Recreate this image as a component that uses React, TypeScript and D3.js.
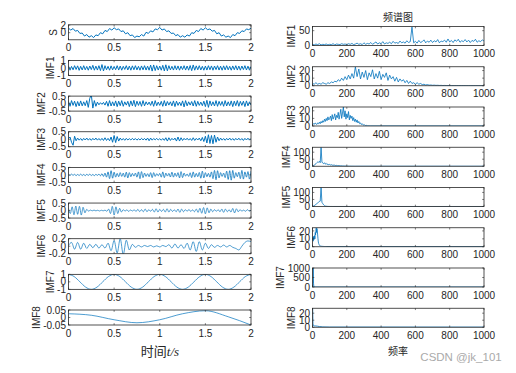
import React from 'react';
import * as d3 from 'd3';

// time axis / frequency axis ticks
const timeTicks = [0, 0.5, 1, 1.5, 2];
const freqTicks = [0, 200, 400, 600, 800, 1000];

// ---- left column: signal and IMFs ----
const sSig = [
  1.2, 0.7, 1.1, 0.4, 0.6, -0.2, -0.1, -0.9, -0.5, -1.2, -0.8, -1.3, -0.6, -0.8, 0.0, -0.3, 0.6, 0.3, 1.1, 0.7,
  1.3, 0.8, 1.0, 0.3, 0.5, -0.3, 0.0, -0.8, -0.6, -1.3, -0.9, -1.1, -0.5, -0.9, 0.1, -0.2, 0.5, 0.2, 1.0, 0.8,
  1.4, 0.7, 1.0, 0.3, 0.5, -0.2, -0.1, -0.8, -0.5, -1.2, -0.8, -1.2, -0.6, -0.9, 0.0, -0.2, 0.6, 0.3, 1.1, 0.7,
  1.3, 0.8, 1.0, 0.4, 0.6, -0.3, 0.0, -0.9, -0.6, -1.2, -0.9, -1.3, -0.5, -0.8, 0.0, -0.2, 0.5, 0.3, 1.0, 0.8,
  1.2,
];
const imf1 = [
  0.25, -0.3, 0.2, -0.25, 0.3, -0.2, 0.28, -0.32, 0.22, -0.27,
  0.3, -0.25, 0.2, -0.3, 0.26, -0.22, 0.35, -0.3, 0.24, -0.28,
  0.3, -0.35, 0.45, -0.4, 0.3, -0.25, 0.22, -0.3, 0.28, -0.26,
  0.2, -0.24, 0.3, -0.28, 0.25, -0.3, 0.22, -0.2, 0.3, -0.27,
  0.25, -0.3, 0.28, -0.24, 0.3, -0.26, 0.22, -0.3, 0.27, -0.25,
  0.3, -0.28, 0.24, -0.3, 0.38, -0.42, 0.4, -0.35, 0.3, -0.28,
  0.25, -0.3, 0.35, -0.4, 0.42, -0.38, 0.3, -0.26, 0.22, -0.28,
  0.3, -0.25, 0.27, -0.3, 0.24, -0.22, 0.3, -0.28, 0.26, -0.3,
  0.32, -0.36, 0.4, -0.3, 0.28, -0.25, 0.3, -0.27, 0.22, -0.3,
  0.25, -0.28, 0.3, -0.24, 0.27, -0.3, 0.26, -0.22, 0.3, -0.28,
  0.24, -0.3, 0.28, -0.26, 0.3, -0.25, 0.22, -0.3, 0.27, -0.24,
  0.3, -0.28, 0.25, -0.3, 0.26, -0.22, 0.3, -0.27, 0.24, -0.3,
  0.2,
];
const imf2 = [
  0.15, -0.18, 0.2, -0.12, 0.16, -0.2, 0.14, -0.16, 0.18, -0.15,
  0.12, -0.14, 0.2, -0.25, 0.35, 0.6, -0.3, 0.2, -0.18, 0.1,
  -0.08, 0.06, -0.05, 0.08, -0.1, 0.15, -0.18, 0.2, -0.16, 0.12,
  -0.15, 0.18, -0.2, 0.16, -0.14, 0.2, -0.18, 0.12, -0.1, 0.15,
  -0.2, 0.18, -0.15, 0.22, -0.2, 0.16, -0.12, 0.14, -0.18, 0.2,
  -0.15, 0.12, -0.08, 0.1, -0.12, 0.16, -0.18, 0.2, -0.14, 0.1,
  -0.12, 0.15, -0.18, 0.2, -0.16, 0.14, -0.1, 0.12, -0.15, 0.18,
  -0.2, 0.16, -0.12, 0.1, -0.14, 0.18, -0.22, 0.2, -0.15, 0.12,
  -0.1, 0.14, -0.16, 0.2, -0.18, 0.15, -0.12, 0.1, -0.14, 0.16,
  -0.2, 0.22, -0.25, 0.18, -0.14, 0.12, -0.16, 0.2, -0.18, 0.15,
  -0.12, 0.14, -0.18, 0.2, -0.16, 0.12, -0.14, 0.18, -0.2, 0.16,
  -0.14, 0.2, -0.18, 0.15, -0.12, 0.16, -0.2, 0.18, -0.15, 0.12,
  -0.1,
];
const imf3 = [
  0.05, 0.15, -0.2, -0.4, 0.2, -0.1, 0.08, -0.06, 0.05, -0.08,
  0.06, -0.05, 0.08, -0.06, 0.05, -0.07, 0.06, -0.05, 0.08, -0.06,
  0.05, -0.07, 0.06, -0.08, 0.1, -0.08, 0.06, -0.1, 0.15, -0.2,
  0.25, -0.22, 0.18, -0.12, 0.08, -0.06, 0.05, -0.07, 0.06, -0.05,
  0.04, -0.05, 0.06, -0.04, 0.05, -0.06, 0.04, -0.05, 0.06, -0.04,
  0.05, -0.06, 0.08, -0.1, 0.08, -0.06, 0.05, -0.04, 0.06, -0.05,
  0.04, -0.06, 0.05, -0.07, 0.1, -0.12, 0.1, -0.08, 0.06, -0.05,
  0.08, -0.12, 0.15, -0.12, 0.1, -0.08, 0.06, -0.05, 0.07, -0.06,
  0.05, -0.08, 0.1, -0.08, 0.06, -0.05, 0.08, -0.1, 0.12, -0.15,
  0.2, -0.25, 0.3, -0.28, 0.25, -0.3, 0.28, -0.2, 0.15, -0.1,
  0.08, -0.06, 0.05, -0.07, 0.06, -0.05, 0.08, -0.06, 0.05, -0.07,
  0.06, -0.05, 0.07, -0.06, 0.05, -0.08, 0.06, -0.05, 0.07, -0.06,
  0.05,
];
const imf4 = [
  0.03, -0.04, 0.05, -0.03, 0.04, -0.05, 0.03, -0.04, 0.05, -0.04,
  0.03, -0.05, 0.04, -0.03, 0.05, -0.04, 0.03, -0.05, 0.04, -0.03,
  0.05, -0.06, 0.08, -0.1, 0.12, -0.15, 0.2, -0.25, 0.28, -0.22,
  0.18, -0.15, 0.1, -0.12, 0.15, -0.1, 0.12, -0.15, 0.18, -0.2,
  0.15, -0.12, 0.1, -0.08, 0.12, -0.15, 0.2, -0.25, 0.22, -0.18,
  0.12, -0.1, 0.08, -0.12, 0.15, -0.18, 0.15, -0.1, 0.08, -0.06,
  0.1, -0.15, 0.2, -0.18, 0.12, -0.08, 0.1, -0.14, 0.18, -0.15,
  0.12, -0.1, 0.15, -0.2, 0.22, -0.18, 0.12, -0.08, 0.06, -0.1,
  0.14, -0.18, 0.2, -0.15, 0.1, -0.12, 0.16, -0.22, 0.25, -0.2,
  0.15, -0.12, 0.1, -0.15, 0.2, -0.25, 0.3, -0.32, 0.28, -0.2,
  0.15, -0.1, 0.12, -0.18, 0.25, -0.3, 0.28, -0.35, 0.3, -0.22,
  0.15, -0.12, 0.18, -0.25, 0.3, -0.28, 0.2, -0.15, 0.22, -0.28,
  0.25,
];
const imf5 = [
  0.15, -0.2, 0.25, -0.28, 0.3, -0.25, 0.28, -0.3, 0.22, -0.15,
  0.08, -0.04, 0.03, -0.02, 0.03, -0.02, 0.02, -0.03, 0.02, -0.02,
  0.03, -0.05, 0.1, -0.2, 0.28, -0.3, 0.25, -0.2, 0.15, -0.1,
  0.06, -0.04, 0.05, -0.06, 0.04, -0.03, 0.05, -0.06, 0.08, -0.07,
  0.06, -0.08, 0.1, -0.08, 0.06, -0.05, 0.08, -0.1, 0.12, -0.1,
  0.08, -0.06, 0.08, -0.1, 0.12, -0.1, 0.08, -0.06, 0.05, -0.08,
  0.1, -0.12, 0.1, -0.08, 0.06, -0.05, 0.07, -0.06, 0.05, -0.08,
  0.1, -0.12, 0.15, -0.18, 0.2, -0.22, 0.18, -0.15, 0.1, -0.08,
  0.06, -0.05, 0.06, -0.08, 0.1, -0.12, 0.1, -0.08, 0.06, -0.1,
  0.14, -0.16, 0.12, -0.08, 0.06, -0.04, 0.03, -0.05, 0.06, -0.04,
  0.02,
];
const imf6 = [
  0.02, 0.1, -0.08, 0.1, -0.08, 0.08, -0.06,
  0.05, -0.04, 0.05, -0.05, 0.04, -0.05,
  0.08, -0.12, 0.15, -0.18, 0.2, -0.22, 0.16, -0.1,
  0.05, -0.03, 0.02, -0.02, 0.02, -0.01, 0.02, -0.02, 0.01, -0.02, 0.02, -0.01,
  0.04, -0.05, 0.06, -0.05, 0.04, -0.06, 0.08,
  -0.1, 0.12, -0.14, 0.12, -0.1, 0.08, -0.06,
  0.04, -0.03, 0.02, -0.02, 0.03, -0.02, 0.02, -0.03,
  -0.06, -0.1, 0.0, 0.1, 0.14, 0.12,
];
const imf7 = [
  1, 0.7, 0, -0.7, -1, -0.7, 0, 0.7,
  1, 0.7, 0, -0.7, -1, -0.7, 0, 0.7,
  1, 0.7, 0, -0.7, -1, -0.7, 0, 0.7,
  1, 0.7, 0, -0.7, -1, -0.7, 0, 0.7,
  1,
];
const imf8 = [0.025, 0.015, -0.015, -0.035, -0.015, 0.025, 0.045, 0.005, -0.05];

// ---- right column: spectra (amplitude per frequency step) ----
const spec1 = [
  4, 2, 5, 3, 6, 2, 4, 3, 5, 2,
  4, 3, 6, 2, 5, 4, 3, 6, 4, 5,
  3, 6, 4, 7, 3, 5, 8, 4, 6, 3,
  9, 4, 7, 5, 10, 4, 8, 12, 5, 9,
  6, 13, 5, 9, 7, 11, 6, 14, 8, 10,
  7, 15, 9, 12, 8, 16, 10, 13, 62, 9,
  14, 8, 17, 10, 13, 19, 9, 15, 11, 18,
  10, 16, 12, 20, 9, 15, 13, 18, 11, 22,
  12, 17, 10, 19, 14, 21, 11, 16, 13, 20,
  12, 18, 10, 17, 14, 21, 11, 16, 13, 19,
  15,
];
const spec2 = [
  3, 2, 4, 2, 3, 2, 4, 3, 2, 4,
  3, 5, 4, 6, 5, 8, 6, 10, 7, 12,
  8, 14, 9, 16, 10, 25, 12, 22, 9, 18,
  11, 20, 8, 17, 12, 21, 9, 16, 10, 19,
  8, 15, 11, 17, 7, 14, 9, 12, 6, 11,
  5, 9, 6, 8, 4, 7, 3, 6, 3, 4,
  2, 4, 2, 3, 1.5, 2, 1, 1.5, 0.8, 1,
  0.6, 0.8, 0.5, 0.6, 0.4, 0.5, 0.3, 0.4, 0.3, 0.3,
  0.3, 0.2, 0.3, 0.2, 0.2, 0.2, 0.2, 0.1, 0.2, 0.1,
  0.1, 0.1, 0.1, 0.1, 0.1, 0.1, 0.1, 0.1, 0.1, 0.1,
  0.1,
];
const spec3 = [
  2, 3, 2, 4, 3, 2, 4, 3, 5, 3,
  6, 4, 7, 5, 9, 6, 10, 7, 12, 8,
  10, 13, 7, 15, 9, 12, 16, 8, 14, 11,
  18, 9, 15, 22, 10, 17, 25, 12, 20, 9,
  16, 11, 19, 8, 14, 10, 13, 7, 11, 6,
  9, 5, 8, 4, 6, 3, 4, 2, 3, 1.5,
  1, 1.5, 0.5, 0.8, 0.3, 0.3, 0.2, 0.2, 0.1,
];
const spec4 = [
  2, 5, 8, 12, 18, 25, 30, 28, 35, 25,
  135,
  30, 22, 18, 25, 15, 20, 12, 16, 10,
  13, 9, 11, 7, 9, 6, 8, 5, 6, 4,
  5, 3, 4, 2, 3, 2, 2, 1.5, 1.5, 1,
  1, 0.8, 0.8, 0.5, 0.5, 0.4, 0.4, 0.3, 0.3, 0.2, 0.2,
];
const spec5 = [
  1, 3, 6, 10, 15, 20, 25, 30, 35, 38,
  135,
  30, 20, 12, 6, 3, 2, 1, 0.8, 0.5,
  0.4, 0.3, 0.3, 0.2, 0.2,
];
const spec6 = [
  8, 12, 7, 13, 9, 11, 14, 10, 18, 15,
  21, 24, 18, 23, 20, 15, 10, 6, 4, 3,
  2, 1.5, 1.2, 1, 0.8, 0.8, 0.6, 0.6, 0.5, 0.5,
  0.4, 0.4, 0.4, 0.3, 0.3, 0.3, 0.3, 0.3, 0.3, 0.3, 0.3,
];
const spec7Freq = [0, 2, 4, 6, 8, 1000];
const spec7Amp = [0, 200, 1000, 200, 0, 0];
const spec8Freq = [0, 1, 3, 5, 10, 20, 30, 40, 60, 100, 1000];
const spec8Amp = [27, 27, 5, 2.5, 2, 1.8, 1.5, 1, 0.5, 0.3, 0.2];

const BLUE = '#0072BD';
const AX = '#262626';
const FONT = '"Liberation Sans", Arial, Helvetica, sans-serif';
const CJK = '"Noto Sans CJK SC", sans-serif';

type Pt = [number, number];
const even = (vals: number[], span: number): Pt[] =>
  vals.map((v, i) => [(i * span) / (vals.length - 1), v]);
const stepped = (vals: number[], step: number, tail: number): Pt[] =>
  [...vals.map((v, i) => [i * step, v] as Pt), [1000, tail]];
const paired = (f: number[], a: number[]): Pt[] => f.map((v, i) => [v, a[i]]);

const leftPanels = [
  { label: 'S', pts: even(sSig, 2), y: [-1.9, 2.1], yt: [0, 2], smooth: false, sw: 1 },
  { label: 'IMF1', pts: even(imf1, 2), y: [-1, 1], yt: [-1, 0, 1], smooth: false, sw: 1 },
  { label: 'IMF2', pts: even(imf2, 2), y: [-0.5, 0.5], yt: [-0.5, 0, 0.5], smooth: false, sw: 1 },
  { label: 'IMF3', pts: even(imf3, 2), y: [-0.5, 0.5], yt: [-0.5, 0, 0.5], smooth: false, sw: 1 },
  { label: 'IMF4', pts: even(imf4, 2), y: [-0.5, 0.5], yt: [-0.5, 0, 0.5], smooth: true, sw: 0.8 },
  { label: 'IMF5', pts: even(imf5, 2), y: [-0.5, 0.5], yt: [-0.5, 0, 0.5], smooth: true, sw: 0.7 },
  { label: 'IMF6', pts: even(imf6, 2), y: [-0.2, 0.2], yt: [-0.2, 0, 0.2], smooth: true, sw: 0.7 },
  { label: 'IMF7', pts: even(imf7, 2), y: [-1, 1], yt: [-1, 0, 1], smooth: true, sw: 0.7 },
  { label: 'IMF8', pts: even(imf8, 2), y: [-0.05, 0.05], yt: [-0.05, 0, 0.05], smooth: true, sw: 0.7 },
];

const rightPanels = [
  { label: 'IMF1', pts: stepped(spec1, 10, 15), y: [0, 64], yt: [0, 50] },
  { label: 'IMF2', pts: stepped(spec2, 10, 0.1), y: [0, 25], yt: [0, 10, 20] },
  { label: 'IMF3', pts: stepped(spec3, 5, 0.1), y: [0, 25], yt: [0, 10, 20] },
  { label: 'IMF4', pts: stepped(spec4, 5, 0.1), y: [0, 135], yt: [0, 50, 100] },
  { label: 'IMF5', pts: stepped(spec5, 5, 0.1), y: [0, 135], yt: [0, 50, 100] },
  { label: 'IMF6', pts: stepped(spec6, 2, 0.2), y: [0, 24], yt: [0, 10, 20] },
  { label: 'IMF7', pts: paired(spec7Freq, spec7Amp), y: [0, 1000], yt: [0, 500, 1000] },
  { label: 'IMF8', pts: paired(spec8Freq, spec8Amp), y: [0, 27], yt: [0, 10, 20] },
];

// rough width of a tick label in Arial-like font at 10px
const textW = (s: string) =>
  s.split('').reduce((w, c) => w + (c === '.' ? 2.78 : c === '-' ? 3.33 : 5.56), 0);

function Panel({ id, x0, x1, top, h, xd, xt, yd, yt, pts, smooth, sw, label }: any) {
  const x = d3.scaleLinear().domain(xd).range([x0, x1]);
  const y = d3.scaleLinear().domain(yd).range([top + h, top]);
  const line = d3
    .line<Pt>()
    .x((d) => x(d[0]))
    .y((d) => y(d[1]))
    .curve(smooth ? d3.curveMonotoneX : d3.curveLinear);
  const tl = 1.8;
  const maxW = d3.max(yt, (v: number) => textW(String(v))) || 0;
  const labelX = x0 - 2.5 - maxW - 7;
  return (
    <g>
      <defs>
        <clipPath id={id}>
          <rect x={x0} y={top} width={x1 - x0} height={h} />
        </clipPath>
      </defs>
      <rect x={x0} y={top} width={x1 - x0} height={h} fill="#fff" />
      <path d={line(pts) || ''} fill="none" stroke={BLUE} strokeWidth={sw} clipPath={`url(#${id})`} />
      <rect x={x0} y={top} width={x1 - x0} height={h} fill="none" stroke={AX} strokeWidth={0.8} />
      {xt.map((v: number) => (
        <g key={'x' + v}>
          <line x1={x(v)} x2={x(v)} y1={top + h} y2={top + h - tl} stroke={AX} strokeWidth={0.6} />
          <line x1={x(v)} x2={x(v)} y1={top} y2={top + tl} stroke={AX} strokeWidth={0.6} />
          <text x={x(v)} y={top + h + 11.5} textAnchor="middle" fontSize={10} fontFamily={FONT} fill={AX}>
            {String(v)}
          </text>
        </g>
      ))}
      {yt.map((v: number) => (
        <g key={'y' + v}>
          <line x1={x0} x2={x0 + tl} y1={y(v)} y2={y(v)} stroke={AX} strokeWidth={0.6} />
          <line x1={x1} x2={x1 - tl} y1={y(v)} y2={y(v)} stroke={AX} strokeWidth={0.6} />
          <text x={x0 - 2.5} y={y(v) + 3.6} textAnchor="end" fontSize={10} fontFamily={FONT} fill={AX}>
            {String(v)}
          </text>
        </g>
      ))}
      <text
        transform={`translate(${labelX},${top + h / 2}) rotate(-90)`}
        textAnchor="middle"
        dominantBaseline="central"
        fontSize={10}
        fontFamily={FONT}
        fill={AX}
      >
        {label}
      </text>
    </g>
  );
}

export default function App() {
  const L = { x0: 68.5, x1: 251, top: 24.8, gap: 35.65, h: 15 };
  const R = { x0: 312.5, x1: 484, top: 26.5, gap: 40.25, h: 19 };
  return (
    <svg
      width={516}
      height={373}
      style={{ position: 'absolute', left: 0, top: 0, background: '#fff' }}
    >
      <rect width={516} height={373} fill="#fff" />
      {leftPanels.map((p, k) => (
        <Panel
          key={'l' + k}
          id={'cl' + k}
          x0={L.x0}
          x1={L.x1}
          top={L.top + k * L.gap}
          h={L.h}
          xd={[0, 2]}
          xt={timeTicks}
          yd={p.y}
          yt={p.yt}
          pts={p.pts}
          smooth={p.smooth}
          sw={p.sw}
          label={p.label}
        />
      ))}
      {rightPanels.map((p, k) => (
        <Panel
          key={'r' + k}
          id={'cr' + k}
          x0={R.x0}
          x1={R.x1}
          top={R.top + k * R.gap}
          h={R.h}
          xd={[0, 1000]}
          xt={freqTicks}
          yd={p.y}
          yt={p.yt}
          pts={p.pts}
          smooth={false}
          sw={0.8}
          label={p.label}
        />
      ))}
      <text x={398} y={21} textAnchor="middle" fontSize={10} fontFamily={CJK} fill={AX}>
        频谱图
      </text>
      <text x={398} y={355} textAnchor="middle" fontSize={10} fontFamily={CJK} fill={AX}>
        频率
      </text>
      <text x={160} y={356} textAnchor="middle" fontSize={13} fill={AX}>
        <tspan fontFamily={CJK}>时间</tspan>
        <tspan fontFamily='"Liberation Serif", "DejaVu Serif", serif' fontStyle="italic">
          t/s
        </tspan>
      </text>
      <text x={461} y={361} textAnchor="middle" fontSize={11.5} fontFamily={FONT} fill="#aaa">
        CSDN @jk_101
      </text>
    </svg>
  );
}
